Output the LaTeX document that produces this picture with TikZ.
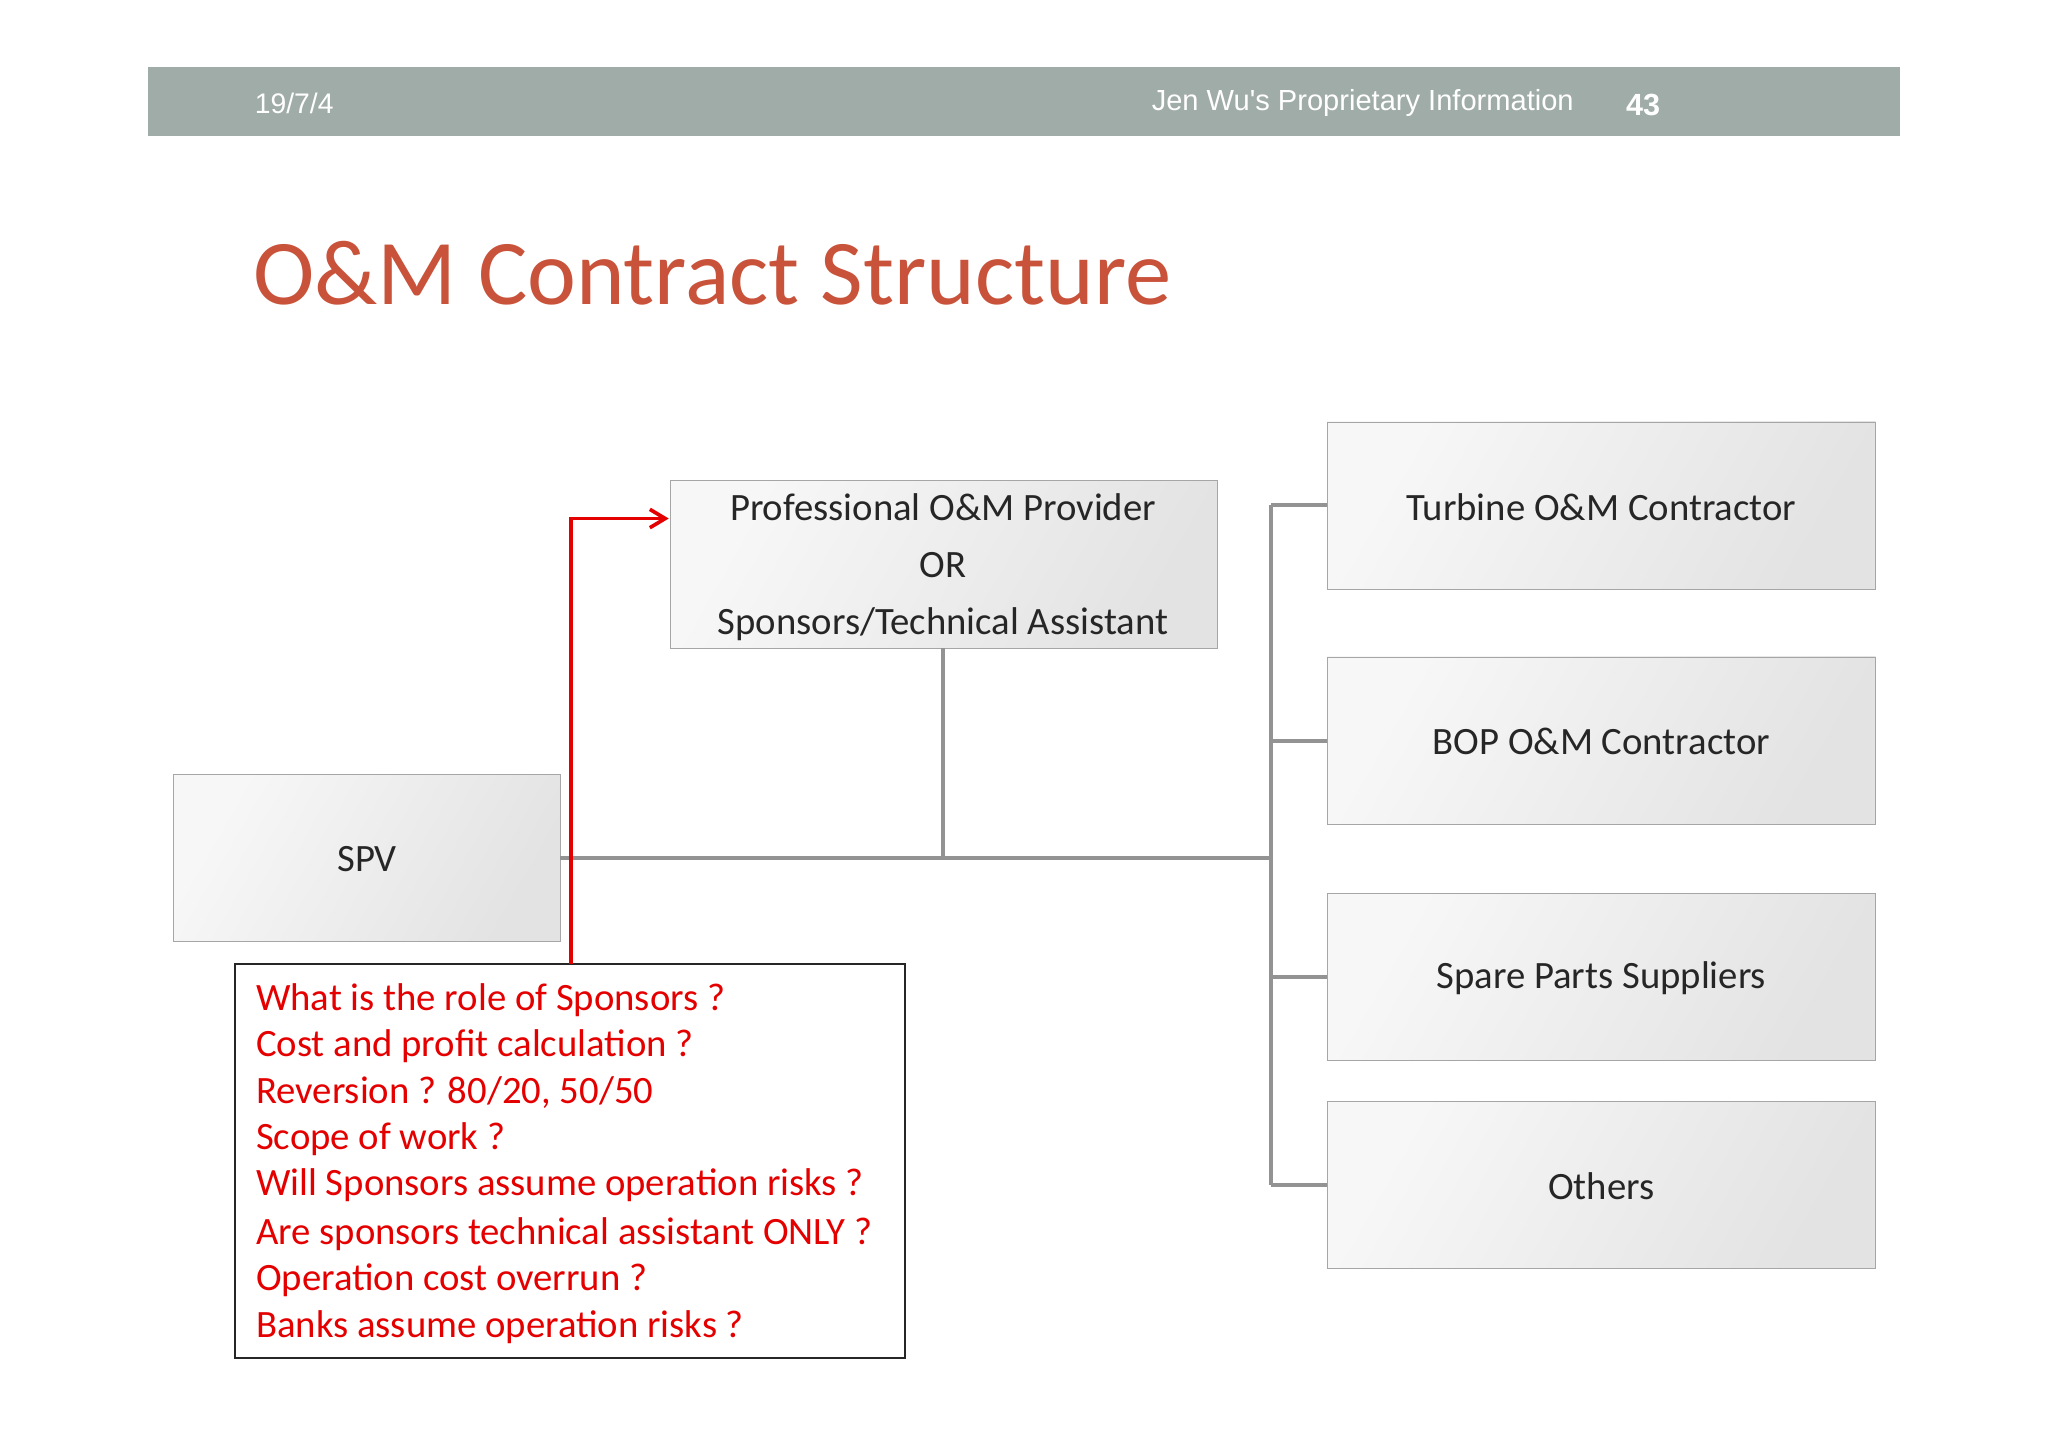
\documentclass[tikz,border=0pt]{standalone}
\usepackage{fontspec}
\usetikzlibrary{arrows.meta}
\setmainfont{Carlito}
\newfontfamily\hdr{Liberation Sans}
\begin{document}
\begin{tikzpicture}[x=0.03cm,y=-0.03cm,
 box/.style={draw=gray!70,left color=gray!6,right color=gray!22,shading angle=60},
 btxt/.style={font=\fontsize{25.3}{28}\selectfont,text=black!85},
 conn/.style={draw=gray!85,line width=2.6pt},
 rtxt/.style={font=\fontsize{25.3}{30}\selectfont,text=red!90!black,anchor=base west}]
\useasboundingbox (0,0) rectangle (1568,1108);
\fill[white] (0,0) rectangle (1568,1108);
\fill[fill={rgb,255:red,160;green,172;blue,167}] (113,51) rectangle (1455,104);
\node[font=\hdr\fontsize{18.5}{20}\selectfont,text=white,anchor=west] (date) at (191,79) {19/7/4};
\node[font=\hdr\fontsize{19}{20}\selectfont,text=white,anchor=east] (prop) at (1209,79) {Jen Wu's Proprietary Information};
\node[font=\hdr\bfseries\fontsize{20}{22}\selectfont,text=white] (pg) at (1258,80) {43};
\node[font=\fontsize{60.5}{64}\selectfont,text={rgb,255:red,201;green,82;blue,58},anchor=base west] (title) at (190,233) {O\&M Contract Structure};
% boxes
\path[box] (513,368) rectangle (932,496);
\node[btxt] (pv1) at (722,388) {Professional O\&M Provider};
\node[btxt] (pv2) at (722,433) {OR};
\node[btxt] (pv3) at (722,478) {Sponsors/Technical Assistant};
\path[box] (133,593) rectangle (429,721);
\node[btxt] (spv) at (281,658) {SPV};
\path[box] (1016,323) rectangle (1436,451);
\node[btxt] (t) at (1226,388) {Turbine O\&M Contractor};
\path[box] (1016,503) rectangle (1436,631);
\node[btxt] (b) at (1226,568) {BOP O\&M Contractor};
\path[box] (1016,684) rectangle (1436,812);
\node[btxt] (s) at (1226,749) {Spare Parts Suppliers};
\path[box] (1016,843) rectangle (1436,971);
\node[btxt] (o) at (1226,908) {Others};
% connectors
\coordinate (j) at (973,657);
\coordinate (pvb) at (722,496);
\coordinate (pvj) at (722,657);
\coordinate (spvr) at (429,657);
\draw[conn] (spvr) -- (j);
\draw[conn] (pvb) -- (pvj);
\draw[conn] (973,387) -- (973,907);
\foreach \y in {387,567,748,907} \draw[conn] (973,\y) -- (1016,\y);
% question box
\draw[line width=1.2pt,draw=black!85,fill=white] (180,738) rectangle (693,1040);
\coordinate (qt) at (437,738);
\coordinate (pvl) at (512,397);
\draw[red!90!black,line width=2.4pt,-{Straight Barb[length=10pt,width=12pt]}] (qt) -- (437,397) -- (pvl);
\node[rtxt] (q1) at (192,774) {What is the role of Sponsors ?};
\node[rtxt] (q2) at (192,809) {Cost and profit calculation ?};
\node[rtxt] (q3) at (192,845) {Reversion ? 80/20, 50/50};
\node[rtxt] (q4) at (192,880) {Scope of work ?};
\node[rtxt] (q5) at (192,915) {Will Sponsors assume operation risks ?};
\node[rtxt] (q6) at (192,953) {Are sponsors technical assistant ONLY ?};
\node[rtxt] (q7) at (192,988) {Operation cost overrun ?};
\node[rtxt] (q8) at (192,1024) {Banks assume operation risks ?};
\end{tikzpicture}
\end{document}
